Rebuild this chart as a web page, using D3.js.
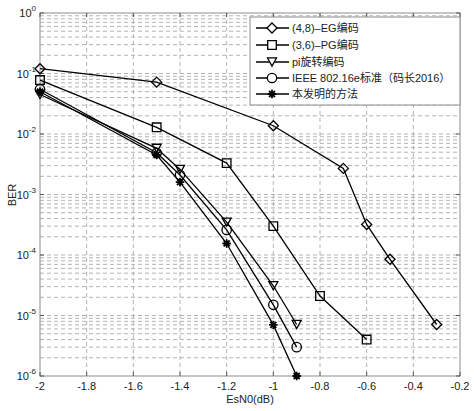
<!DOCTYPE html>
<html><head><meta charset="utf-8">
<script src="https://cdn.jsdelivr.net/npm/d3@7"></script>
<style>
body{margin:0;background:#fff;}
text{font-family:"Liberation Sans",Arial,sans-serif;}
</style></head>
<body><svg id="c" width="474" height="411"></svg>
<script>
const xEG = [-2,-1.5,-1,-0.7,-0.6,-0.5,-0.3];
const yEG = [0.12,0.072,0.0137,2.7e-3,3.2e-4,8.5e-5,7.1e-6];
const xPG = [-2,-1.5,-1.2,-1,-0.8,-0.6];
const yPG = [0.078,0.0129,3.3e-3,3.0e-4,2.1e-5,4.0e-6];
const xPI = [-2,-1.5,-1.4,-1.2,-1,-0.9];
const yPI = [0.045,5.8e-3,2.6e-3,3.5e-4,3.1e-5,7.1e-6];
const xIEEE = [-2,-1.5,-1.4,-1.2,-1,-0.9];
const yIEEE = [0.055,4.9e-3,2.1e-3,2.6e-4,1.5e-5,3.0e-6];
const xOurs = [-2,-1.5,-1.4,-1.2,-1,-0.9];
const yOurs = [0.05,4.5e-3,1.6e-3,1.55e-4,7e-6,1e-6];
const seriesNames = ["(4,8)–EG编码","(3,6)–PG编码","pi旋转编码","IEEE 802.16e标准（码长2016）","本发明的方法"];
const xTicks = [-2,-1.8,-1.6,-1.4,-1.2,-1,-0.8,-0.6,-0.4,-0.2];
const yExps = [0,-1,-2,-3,-4,-5,-6];

const svg = d3.select("#c");
const L=40,R=460,T=13,B=376;
const x = d3.scaleLinear().domain([-2,-0.2]).range([L,R]);
const y = d3.scaleLog().domain([1e-6,1]).range([B,T]);

// grid
const g = svg.append("g");
const gridCol="#aaaaaa", dash="4,3";
xTicks.slice(1,-1).forEach(v=>{
  g.append("line").attr("x1",x(v)).attr("x2",x(v)).attr("y1",T).attr("y2",B)
   .attr("stroke",gridCol).attr("stroke-dasharray",dash).attr("stroke-width",0.9);
});
const minor=[];
for(let e=-6;e<0;e++){for(let m=2;m<=9;m++)minor.push(m*Math.pow(10,e));}
minor.concat(yExps.slice(1,-1).map(e=>Math.pow(10,e))).forEach(v=>{
  g.append("line").attr("x1",L).attr("x2",R).attr("y1",y(v)).attr("y2",y(v))
   .attr("stroke",gridCol).attr("stroke-dasharray",dash).attr("stroke-width",0.9);
});
// frame
svg.append("rect").attr("x",L).attr("y",T).attr("width",R-L).attr("height",B-T)
  .attr("fill","none").attr("stroke","#8c8c8c").attr("stroke-width",1);
// ticks
xTicks.forEach(v=>{
  svg.append("line").attr("x1",x(v)).attr("x2",x(v)).attr("y1",B).attr("y2",B-4).attr("stroke","#555");
  svg.append("line").attr("x1",x(v)).attr("x2",x(v)).attr("y1",T).attr("y2",T+4).attr("stroke","#555");
  svg.append("text").attr("x",x(v)).attr("y",B+14).attr("text-anchor","middle")
   .attr("font-size",11).attr("fill","#222").text(String(v));
});
yExps.forEach(e=>{
  const yy=y(Math.pow(10,e));
  svg.append("line").attr("x1",L).attr("x2",L+4).attr("y1",yy).attr("y2",yy).attr("stroke","#555");
  svg.append("line").attr("x1",R).attr("x2",R-4).attr("y1",yy).attr("y2",yy).attr("stroke","#555");
  const t=svg.append("text").attr("x",L-4).attr("y",yy+4).attr("text-anchor","end").attr("font-size",11).attr("fill","#222");
  t.append("tspan").text("10");
  t.append("tspan").attr("dy",-6).attr("font-size",8).text(e===0?"0":String(e));
});
svg.append("text").attr("x",250).attr("y",403).attr("text-anchor","middle").attr("font-size",11).attr("fill","#222").text("EsN0(dB)");
svg.append("text").attr("transform","translate(16,195) rotate(-90)").attr("text-anchor","middle").attr("font-size",11).attr("fill","#222").text("BER");

// symbols
const diamond={draw(c,s){const r=Math.sqrt(s)/2*1.3;c.moveTo(0,-r);c.lineTo(r,0);c.lineTo(0,r);c.lineTo(-r,0);c.closePath();}};
const square={draw(c,s){const r=Math.sqrt(s)/2;c.rect(-r,-r,2*r,2*r);}};
const triDown={draw(c,s){const r=Math.sqrt(s)/2;c.moveTo(-r,-r*0.9);c.lineTo(r,-r*0.9);c.lineTo(0,r*0.9);c.closePath();}};
const circle={draw(c,s){const r=Math.sqrt(s)/2;c.moveTo(r,0);c.arc(0,0,r,0,2*Math.PI);}};
const star={draw(c,s){const r=Math.sqrt(s)/2;for(let i=0;i<4;i++){const a=i*Math.PI/4;c.moveTo(-r*Math.cos(a),-r*Math.sin(a));c.lineTo(r*Math.cos(a),r*Math.sin(a));}}};

const series=[
  {xs:xEG,ys:yEG,sym:diamond,size:60,name:seriesNames[0]},
  {xs:xPG,ys:yPG,sym:square,size:74,name:seriesNames[1]},
  {xs:xPI,ys:yPI,sym:triDown,size:81,name:seriesNames[2]},
  {xs:xIEEE,ys:yIEEE,sym:circle,size:88,name:seriesNames[3]},
  {xs:xOurs,ys:yOurs,sym:star,size:72,name:seriesNames[4]}
];
const line=d3.line().x(d=>x(d[0])).y(d=>y(d[1]));
series.forEach(s=>{
  const pts=s.xs.map((v,i)=>[v,s.ys[i]]);
  svg.append("path").attr("d",line(pts)).attr("fill","none").attr("stroke","#000").attr("stroke-width",1.3);
  svg.selectAll(null).data(pts).enter().append("path")
    .attr("transform",d=>`translate(${x(d[0])},${y(d[1])})`)
    .attr("d",d3.symbol().type(s.sym).size(s.size))
    .attr("fill","none").attr("stroke","#000").attr("stroke-width",s.sym===star?1.8:1.3);
});

// legend
const lg=svg.append("g");
lg.append("rect").attr("x",250).attr("y",17).attr("width",210).attr("height",88)
  .attr("fill","#fff").attr("stroke","#8c8c8c").attr("stroke-width",1);
const rowY=[28,45,62,78,94];
series.forEach((s,i)=>{
  lg.append("line").attr("x1",256).attr("x2",289).attr("y1",rowY[i]).attr("y2",rowY[i]).attr("stroke","#000").attr("stroke-width",1.4);
  lg.append("path").attr("transform",`translate(272,${rowY[i]})`).attr("d",d3.symbol().type(s.sym).size(s.size))
    .attr("fill","#fff").attr("stroke","#000").attr("stroke-width",s.sym===star?1.8:1.3);
  lg.append("text").attr("x",292).attr("y",rowY[i]+4).attr("font-size",11).attr("fill","#222")
    .style("font-family",'"Liberation Sans","Noto Sans CJK SC",sans-serif').text(s.name);
});
</script></body></html>
